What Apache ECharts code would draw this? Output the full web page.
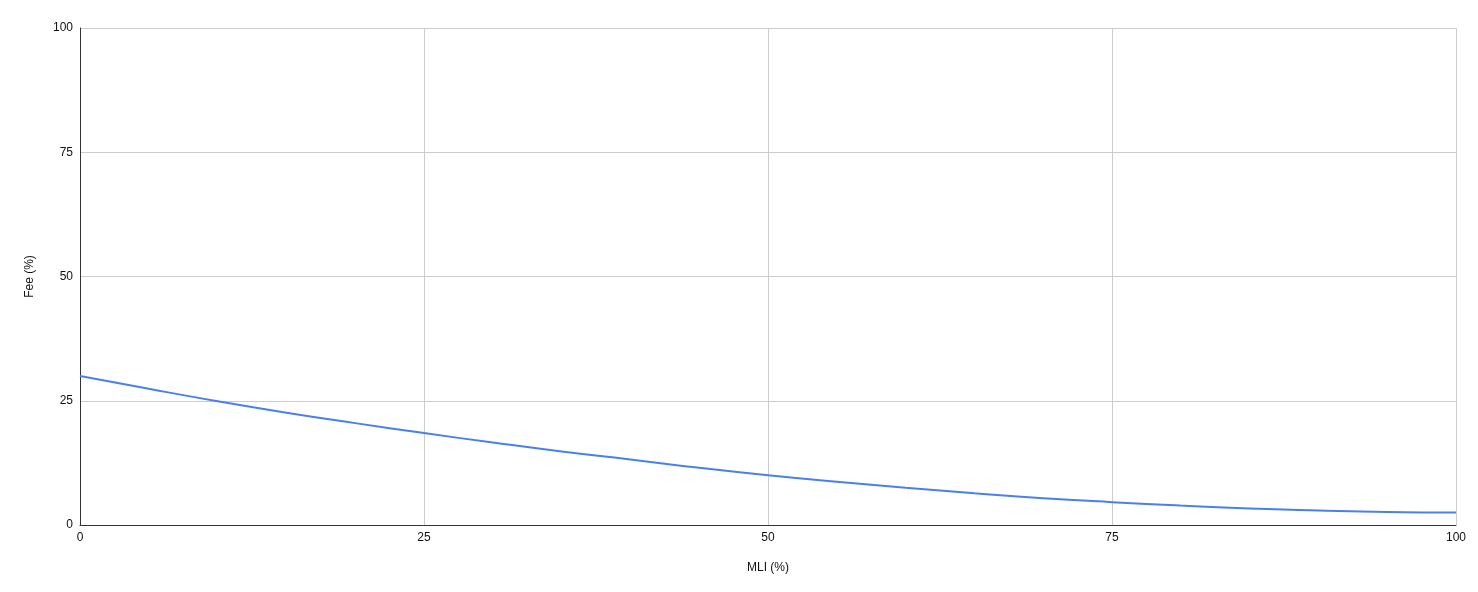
<!DOCTYPE html>
<html>
<head>
<meta charset="utf-8">
<script src="https://cdn.jsdelivr.net/npm/echarts@6/dist/echarts.min.js"></script>
<style>html,body{margin:0;padding:0;background:#fff}#c{width:1478px;height:592px}</style>
</head>
<body>
<div id="c"></div>
<script>
const mli = [0, 5, 10, 15, 20, 25, 30, 35, 40, 45, 50, 55, 60, 65, 70, 75, 80, 85, 90, 95, 100];
const fee = [30, 27.4, 24.9, 22.6, 20.5, 18.5, 16.6, 14.8, 13.2, 11.5, 10.0, 8.7, 7.5, 6.4, 5.4, 4.6, 3.9, 3.3, 2.9, 2.6, 2.5];
const xTicks = [0, 25, 50, 75, 100];
const yTicks = [0, 25, 50, 75, 100];

const chart = echarts.init(document.getElementById('c'), null, {renderer: 'canvas'});
const font = 'Liberation Sans, Arial, sans-serif';
chart.setOption({
  animation: false,
  grid: {left: 80, right: 22, top: 28, bottom: 67, containLabel: false},
  xAxis: {
    type: 'value', min: 0, max: 100, interval: 25,
    name: 'MLI (%)', nameLocation: 'middle', nameGap: 37,
    nameTextStyle: {color: '#111', fontSize: 12, fontFamily: font},
    axisLine: {show: true, onZero: false, lineStyle: {color: '#333', width: 1}},
    axisTick: {show: false},
    axisLabel: {color: '#111', fontSize: 12, fontFamily: font, margin: 7,
      formatter: v => xTicks.includes(v) ? String(v) : ''},
    splitLine: {show: true, lineStyle: {color: '#cccccc', width: 1}}
  },
  yAxis: {
    type: 'value', min: 0, max: 100, interval: 25,
    name: 'Fee (%)', nameLocation: 'middle', nameGap: 44, nameRotate: 90,
    nameTextStyle: {color: '#111', fontSize: 12, fontFamily: font},
    axisLine: {show: true, lineStyle: {color: '#333', width: 1}},
    axisTick: {show: false},
    axisLabel: {color: '#111', fontSize: 12, fontFamily: font, margin: 7,
      formatter: v => yTicks.includes(v) ? String(v) : ''},
    splitLine: {show: true, lineStyle: {color: '#cccccc', width: 1}}
  },
  series: [{
    type: 'line',
    data: mli.map((x, i) => [x, fee[i]]),
    smooth: true,
    showSymbol: false,
    lineStyle: {color: '#4a7ff0', width: 2},
    itemStyle: {color: '#4a7ff0'}
  }]
});
</script>
</body>
</html>
